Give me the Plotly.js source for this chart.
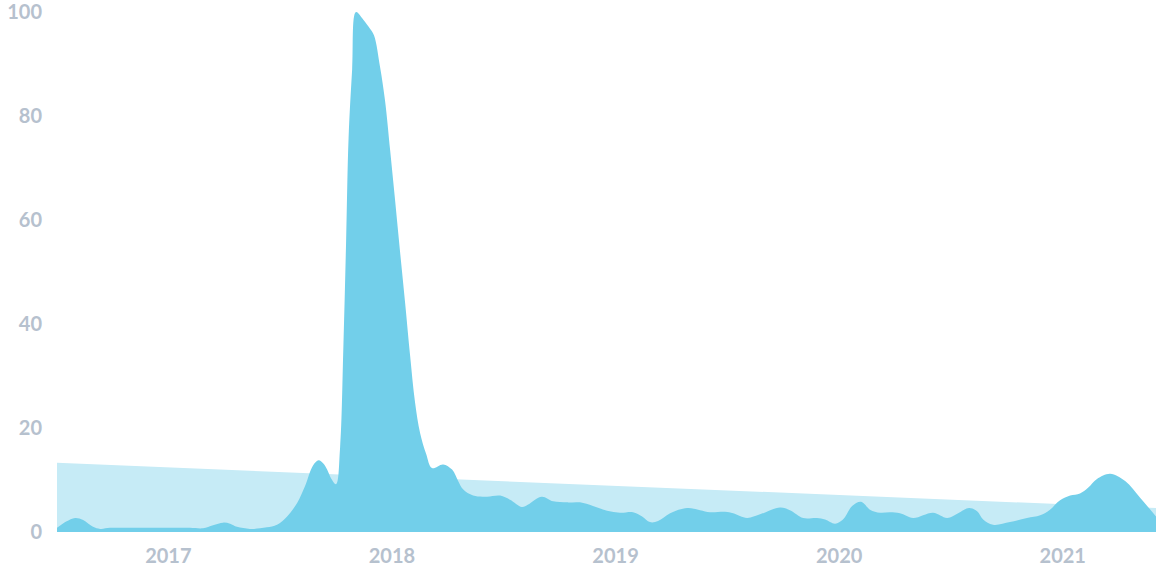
<!DOCTYPE html>
<html>
<head>
<meta charset="utf-8">
<script src="https://cdn.plot.ly/plotly-3.0.1.min.js"></script>
<style>html,body{margin:0;padding:0;background:#fff;}#chart{width:1160px;height:580px;}</style>
</head>
<body>
<div id="chart"></div>
<script>
// time as decimal years
const interestX = [
  2016.502, 2016.543, 2016.583, 2016.619, 2016.663, 2016.695, 2016.739, 2016.829, 2016.918, 2017.008,
  2017.097, 2017.155, 2017.200, 2017.245, 2017.276, 2017.307, 2017.365, 2017.410, 2017.441, 2017.486,
  2017.531, 2017.576, 2017.611, 2017.647, 2017.672, 2017.692, 2017.710, 2017.728, 2017.750, 2017.768,
  2017.783, 2017.795, 2017.806, 2017.822, 2017.839, 2017.871, 2017.902, 2017.920, 2017.947, 2017.969,
  2017.992, 2018.014, 2018.036, 2018.059, 2018.081, 2018.103, 2018.126, 2018.153, 2018.179, 2018.229,
  2018.269, 2018.296, 2018.318, 2018.363, 2018.425, 2018.484, 2018.528, 2018.581, 2018.609, 2018.670,
  2018.721, 2018.783, 2018.841, 2018.899, 2018.962, 2019.020, 2019.078, 2019.119, 2019.154, 2019.190,
  2019.244, 2019.320, 2019.378, 2019.423, 2019.490, 2019.526, 2019.588, 2019.646, 2019.736, 2019.780,
  2019.839, 2019.901, 2019.937, 2019.982, 2020.017, 2020.058, 2020.098, 2020.138, 2020.183, 2020.228,
  2020.272, 2020.331, 2020.420, 2020.483, 2020.532, 2020.581, 2020.617, 2020.644, 2020.688, 2020.764,
  2020.840, 2020.899, 2020.943, 2020.988, 2021.033, 2021.077, 2021.113, 2021.153, 2021.212, 2021.279,
  2021.346, 2021.417
];
const interestY = [
  0.8, 2.0, 2.7, 2.3, 1.0, 0.6, 0.8, 0.8, 0.8, 0.8,
  0.8, 0.7, 1.3, 1.8, 1.6, 1.0, 0.6, 0.7, 0.9, 1.4,
  3.0, 5.6, 8.8, 12.8, 13.8, 13.2, 12.0, 10.3, 9.2, 16.2,
  36, 56, 75.8, 89, 100, 98.6, 96.8, 95.5, 89.4, 83,
  73.4, 63.8, 54, 44, 34, 25, 19, 15, 12.3, 13.0,
  12.0, 9.8, 8.2, 7.0, 6.8, 7.0, 6.2, 4.8, 5.3, 6.8,
  5.9, 5.7, 5.7, 5.0, 4.1, 3.7, 3.8, 3.0, 1.9, 2.1,
  3.6, 4.6, 4.2, 3.8, 3.9, 3.6, 2.7, 3.4, 4.7, 4.2,
  2.7, 2.7, 2.4, 1.6, 2.4, 5.0, 5.8, 4.3, 3.7, 3.8,
  3.6, 2.7, 3.7, 2.7, 3.6, 4.6, 4.0, 2.4, 1.4, 1.9,
  2.7, 3.2, 4.3, 6.1, 7.0, 7.4, 8.5, 10.2, 11.2, 9.8,
  6.6, 3.0
];
const trendX = [2016.502, 2021.417];
const trendY = [13.3, 4.6];
const yearTicks = [2017, 2018, 2019, 2020, 2021];
const yearLabels = ['2017', '2018', '2019', '2020', '2021'];
const valueTicks = [0, 20, 40, 60, 80, 100];
const valueLabels = ['0', '20', '40', '60', '80', '100'];

const tickFont = {family: 'Lato, sans-serif', size: 20, color: '#b6c1ce', weight: 700};

const data = [
  {
    x: trendX, y: trendY, type: 'scatter', mode: 'lines', fill: 'tozeroy',
    line: {width: 0, color: '#c6ebf6'}, fillcolor: '#c6ebf6', hoverinfo: 'skip'
  },
  {
    x: interestX, y: interestY, type: 'scatter', mode: 'lines', fill: 'tozeroy',
    line: {width: 0, color: '#72cfea', shape: 'spline', smoothing: 1}, fillcolor: '#72cfea', hoverinfo: 'skip'
  }
];

const layout = {
  width: 1160, height: 580,
  margin: {l: 57, r: 4, t: 12, b: 48, pad: 0},
  paper_bgcolor: '#ffffff', plot_bgcolor: '#ffffff',
  showlegend: false,
  xaxis: {
    range: [2016.502, 2021.417], showgrid: false, zeroline: false, showline: false, ticks: '',
    tickvals: yearTicks, ticktext: yearLabels, tickfont: tickFont, ticklabelstandoff: 10, fixedrange: true
  },
  yaxis: {
    range: [0, 100.02], showgrid: false, zeroline: false, showline: false, ticks: '',
    tickvals: valueTicks, ticktext: valueLabels, tickfont: tickFont, ticklabelstandoff: 14,
    ticklabeloverflow: 'allow', fixedrange: true
  }
};

Plotly.newPlot('chart', data, layout, {displayModeBar: false, staticPlot: true});
</script>
</body>
</html>
